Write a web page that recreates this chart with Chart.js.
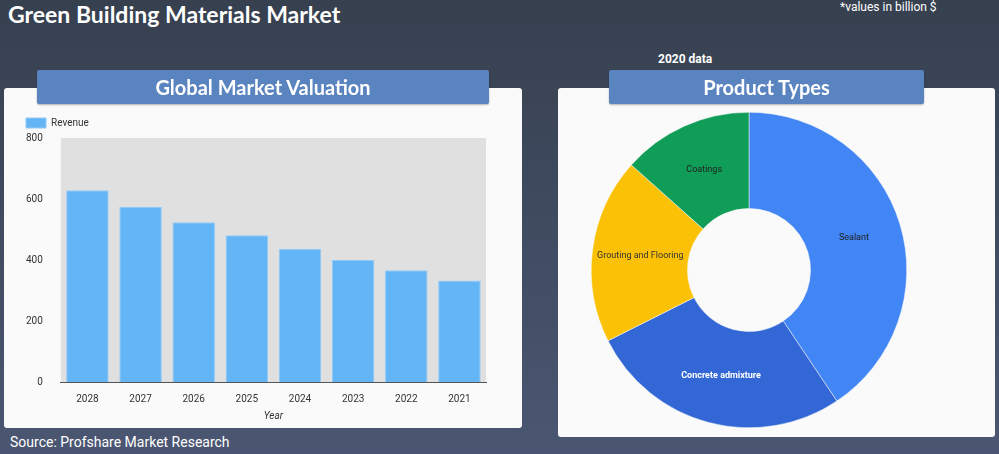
<!DOCTYPE html>
<html>
<head>
<meta charset="utf-8">
<script src="https://cdn.jsdelivr.net/npm/chart.js@4.4.0/dist/chart.umd.min.js"></script>
<style>
  body { margin:0; width:999px; height:454px; overflow:hidden; font-family: Lato, "Open Sans", sans-serif;
    background: linear-gradient(#36404f, #4b5672); position:relative; }
  .abs { position:absolute; }
  .panel { background:#fafafa; border-radius:3px; }
  .head { background:#5a84bf; color:#fff; font-weight:bold; font-size:20px; text-align:center; line-height:34px;
    border-radius:2px; box-shadow:0 1px 2px rgba(0,0,0,0.3); }
</style>
</head>
<body>
<div class="abs" style="left:8px;top:0;color:#fff;font-weight:bold;font-size:23px;">Green Building Materials Market</div>
<div class="abs" style="left:840px;top:0;color:#fff;font-size:12px;font-family:Roboto;">*values in billion $</div>
<div class="abs" style="left:658px;top:52px;color:#fff;font-size:12px;font-weight:bold;font-family:Roboto;">2020 data</div>
<div class="abs panel" style="left:4px;top:88px;width:518px;height:340px;"><canvas id="bar"></canvas></div>
<div class="abs panel" style="left:558px;top:88px;width:437px;height:349px;"><canvas id="pie"></canvas></div>
<div class="abs head" style="left:37px;top:70px;width:452px;height:34px;">Global Market Valuation</div>
<div class="abs head" style="left:609px;top:70px;width:315px;height:34px;">Product Types</div>
<div class="abs" style="left:10px;top:434px;color:#fff;font-size:14px;font-family:Roboto;">Source: Profshare Market Research</div>
<script>
var years = ['2028', '2027', '2026', '2025', '2024', '2023', '2022', '2021'];
var revenue = [629, 575, 524, 481, 437, 400, 366, 333];
var products = ['Sealant', 'Concrete admixture', 'Grouting and Flooring', 'Coatings'];
var shares = [40.6, 27, 19, 13.4];
var productColors = ['#4285f4', '#3367d6', '#fbc107', '#0f9d58'];
var labelColors = ['#222', '#fff', '#333', '#222'];

Chart.defaults.font.family = 'Roboto';
Chart.defaults.animation = false;

var plotBg = {
  id: 'plotBg',
  beforeDraw: function(chart) {
    var a = chart.chartArea, ctx = chart.ctx;
    ctx.save(); ctx.fillStyle = '#e0e0e0';
    ctx.fillRect(a.left, a.top, a.right - a.left, a.bottom - a.top);
    ctx.restore();
  }
};

new Chart(document.getElementById('bar'), {
  type: 'bar',
  data: { labels: years, datasets: [{ label: 'Revenue', data: revenue,
    backgroundColor: '#64b5f6', borderColor: '#90caf9', borderWidth: 1,
    categoryPercentage: 0.8, barPercentage: 1 }] },
  options: {
    responsive: true, maintainAspectRatio: false,
    layout: { padding: { left: 12, right: 36, top: 20, bottom: 4 } },
    plugins: {
      legend: { align: 'start', labels: { boxWidth: 20, boxHeight: 10, color: '#333', font: { size: 10 }, padding: 10 } },
      tooltip: { enabled: false }
    },
    scales: {
      x: { grid: { display: false }, border: { color: '#555', width: 1 },
        ticks: { color: '#333', font: { size: 10 } },
        title: { display: true, text: 'Year', color: '#333', font: { size: 10, style: 'italic' }, padding: 2 } },
      y: { min: 0, max: 800, grid: { display: false }, border: { display: false },
        ticks: { stepSize: 200, color: '#333', font: { size: 10 }, padding: 10 } }
    }
  },
  plugins: [plotBg]
});

var sliceLabels = {
  id: 'sliceLabels',
  afterDatasetsDraw: function(chart) {
    var ctx = chart.ctx;
    chart.getDatasetMeta(0).data.forEach(function(arc, i) {
      var p = arc.tooltipPosition();
      ctx.save();
      ctx.fillStyle = labelColors[i];
      ctx.font = (i === 1 ? 'bold ' : '') + '9px Roboto';
      ctx.textAlign = 'center'; ctx.textBaseline = 'middle';
      ctx.fillText(products[i], p.x, p.y);
      ctx.restore();
    });
  }
};

new Chart(document.getElementById('pie'), {
  type: 'doughnut',
  data: { labels: products, datasets: [{ data: shares, backgroundColor: productColors,
    borderColor: '#fafafa', borderWidth: 0.5 }] },
  options: {
    responsive: true, maintainAspectRatio: false, cutout: '39%',
    layout: { padding: { left: 33, right: 88, top: 24, bottom: 9 } },
    plugins: { legend: { display: false }, tooltip: { enabled: false } }
  },
  plugins: [sliceLabels]
});
</script>
</body>
</html>
